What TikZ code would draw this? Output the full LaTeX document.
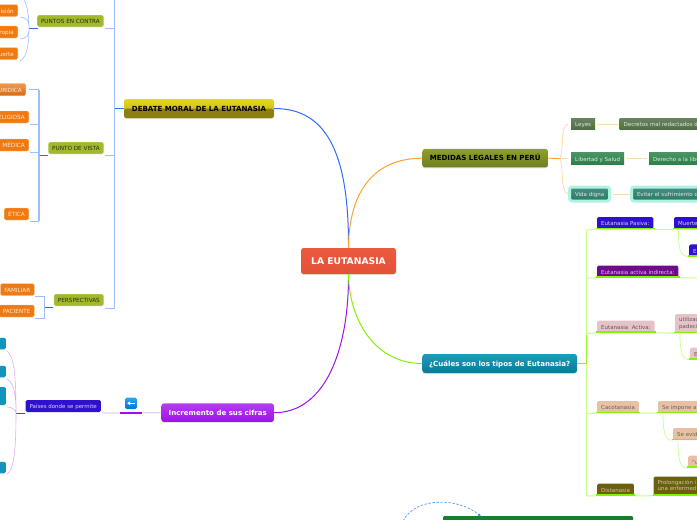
\documentclass[tikz,border=0pt]{standalone}
\usepackage{fontspec}
\setmainfont{DejaVu Sans}
\usetikzlibrary{arrows.meta,shadows}
\definecolor{blueL}{HTML}{9DBEFF}\definecolor{blueB}{HTML}{2E6BF0}
\definecolor{orgL}{HTML}{FFD9A6}\definecolor{orgB}{HTML}{FFA030}
\definecolor{purL}{HTML}{DDAEFF}\definecolor{purB}{HTML}{A010EE}
\definecolor{grnL}{HTML}{C4FF8C}\definecolor{grnB}{HTML}{80F400}
\definecolor{olv}{HTML}{A2B92C}\definecolor{orn}{HTML}{F07A10}
\definecolor{ind}{HTML}{3010D0}\definecolor{vio}{HTML}{6F0A8A}
\definecolor{pnk}{HTML}{E5C3C8}\definecolor{pch}{HTML}{E8C0A5}
\definecolor{brn}{HTML}{6B5F10}\definecolor{tea}{HTML}{1295BC}
\definecolor{halo}{HTML}{AEF2E4}
\definecolor{ctrA}{HTML}{EB5A3E}\definecolor{ctrB}{HTML}{E5503A}
\definecolor{debA}{HTML}{E4D820}\definecolor{debB}{HTML}{BBAF14}\definecolor{debC}{HTML}{8C7E12}
\definecolor{medA}{HTML}{8E9F2B}\definecolor{medB}{HTML}{6E8020}
\definecolor{cuaA}{HTML}{1A9CC0}\definecolor{cuaB}{HTML}{0B7A95}
\definecolor{incA}{HTML}{B53CF0}\definecolor{incB}{HTML}{A010EE}
\definecolor{jurA}{HTML}{EE9A50}\definecolor{jurB}{HTML}{D86A10}
\definecolor{icoA}{HTML}{25A8F0}\definecolor{icoB}{HTML}{0A70D8}
\definecolor{lfA}{HTML}{4F6E45}\definecolor{lfB}{HTML}{2B8048}\definecolor{lfC}{HTML}{2A7A68}
\definecolor{grn}{HTML}{1A7F2A}\definecolor{arcB}{HTML}{3C8CF0}\definecolor{mainB}{HTML}{2E6BFF}
\newcommand{\smallstrut}{\rule[-1.5pt]{0pt}{8.5pt}}
\newcommand{\bigstrut}{\rule[-1.9pt]{0pt}{8.9pt}}
\tikzset{
 base/.style={rounded corners=1.5pt,inner ysep=0pt,inner xsep=4pt,minimum height=12pt,font=\fontsize{5.5}{6.6}\selectfont,align=left,execute at begin node=\smallstrut},
 caps/.style={base,font=\fontsize{5.7}{6.6}\selectfont},
 olive/.style={caps,fill=olv,text=black!75!olv,draw=white,line width=.4pt},
 orange/.style={caps,fill=orn,text=white!85!orn,draw=white!60!orn,line width=.3pt},
 indigo/.style={base,fill=ind,text=white!80!ind},
 violet/.style={base,fill=vio,text=white!75!vio},
 pink/.style={base,fill=pnk,text=black!55!pnk},
 peach/.style={base,fill=pch,text=black!50!pch},
 brown/.style={base,fill=brn,text=white!65!brn},
 teal2/.style={base,fill=tea},
 leaf/.style={base,rounded corners=0pt,top color=#1!85!white,bottom color=#1,text=white!85!#1,minimum height=11.5pt},
 halobox/.style={leaf=#1,draw=halo,line width=3pt,rounded corners=2.5pt,minimum height=14pt,inner xsep=5.5pt},
 main/.style={rounded corners=2.5pt,inner ysep=0pt,inner xsep=5pt,font=\fontsize{7.05}{8}\selectfont\bfseries,drop shadow={opacity=.2,shadow xshift=0pt,shadow yshift=-1pt}},
 busB/.style={blueL,line width=.9pt},  hotB/.style={blueB,line width=.9pt},
 busO/.style={orgL,line width=.8pt},   hotO/.style={orgB,line width=.9pt},
 busP/.style={purL,line width=.8pt},   hotP/.style={purB,line width=1pt},
 busG/.style={grnL,line width=1pt},   hotG/.style={grnB,line width=1pt},
 ul/.style={grnB,line width=1.7pt}
}
\begin{document}
\begin{tikzpicture}[x=1pt,y=-1pt]
\useasboundingbox (0,0) rectangle (697,520);
\clip (0,0) rectangle (697,520);
% ---- nodes
\node[main,minimum width=95pt,minimum height=26pt,top color=ctrA,bottom color=ctrB,text=white,font=\fontsize{9.2}{10}\selectfont\bfseries] (c) at (348.5,261) {LA EUTANASIA};
\node[main,minimum width=150pt,minimum height=19pt,top color=debA,bottom color=debB,text=black,
  path picture={\fill[debC] (path picture bounding box.west) rectangle (path picture bounding box.south east);
  }] (deb) at (199,108.5) {};
\node[font=\fontsize{7.05}{8}\selectfont\bfseries,text=black] (debt) at (199,108.8) {DEBATE MORAL DE LA EUTANASIA};
\node[main,minimum width=125.5pt,minimum height=18.5pt,top color=medA,bottom color=medB,text=black] (med) at (485.2,158.2) {\bigstrut MEDIDAS LEGALES EN PERÚ};
\node[main,minimum width=154.5pt,minimum height=19pt,top color=cuaA,bottom color=cuaB,text=white] (cua) at (499.7,363.5) {\bigstrut ¿Cuáles son los tipos de Eutanasia?};
\node[main,minimum width=112.5pt,minimum height=18.5pt,top color=incA,bottom color=incB,text=white] (inc) at (217.7,412.7) {\bigstrut Incremento de sus cifras};
% left olive
\node[olive,anchor=east] (pc) at (104,21) {PUNTOS EN CONTRA};
\node[olive,anchor=east] (pv) at (104,148) {PUNTO DE VISTA};
\node[olive,anchor=east] (pe) at (104,300) {PERSPECTIVAS};
% left orange
\node[orange,anchor=east] (o1) at (18,10.5) {misión};
\node[orange,anchor=east] (o2) at (18,32) {propia};
\node[orange,anchor=east] (o3) at (18,53.5) {muerte};
\node[orange,anchor=east,top color=jurA,bottom color=jurB] (o4) at (26,89.5) {JURIDICA};
\node[orange,anchor=east] (o5) at (29,117) {RELIGIOSA};
\node[orange,anchor=east] (o6) at (29,145) {MÉDICA};
\node[orange,anchor=east] (o7) at (29,214) {ÉTICA};
\node[orange,anchor=east] (o8) at (34.5,289.5) {FAMILIAR};
\node[orange,anchor=east] (o9) at (34.5,311) {PACIENTE};
% purple branch
\node[indigo,anchor=east] (pa) at (101,406) {Países donde se permite};
\node[rounded corners=1.5pt,minimum size=11.5pt,inner sep=0pt,top color=icoA,bottom color=icoB] (ic) at (131,403.3) {};
\draw[white,line width=1.3pt,-{Latex[length=3pt,width=4.5pt]}] ([xshift=3.5pt]ic.center) -- ([xshift=-3.8pt]ic.center);
\node[teal2,anchor=east,minimum width=30pt,minimum height=11.5pt] (t1) at (6,343.5) {};
\node[teal2,anchor=east,minimum width=30pt,minimum height=11.5pt] (t2) at (6,371.5) {};
\node[teal2,anchor=east,minimum width=30pt,minimum height=18pt] (t3) at (6,396) {};
\node[teal2,anchor=east,minimum width=30pt,minimum height=11.5pt] (t4) at (6,467.5) {};
% legal
\node[leaf=lfA,anchor=west] (l1) at (571,124) {Leyes};
\node[leaf=lfA,anchor=west] (l2) at (619.5,124) {Decretos mal redactados d};
\node[leaf=lfB,anchor=west] (l3) at (571,158.5) {Libertad y Salud};
\node[leaf=lfB,anchor=west] (l4) at (649,158.5) {Derecho a la libertad};
\node[halobox=lfC,anchor=west] (l5) at (568,194) {Vida digna};
\node[halobox=lfC,anchor=west] (l6) at (630,194) {Evitar el sufrimiento d};
% types
\node[indigo,anchor=west] (a1) at (597,223) {Eutanasia Pasiva:};
\node[indigo,anchor=west] (a2) at (674,223) {Muerte};
\node[indigo,anchor=west] (a3) at (689,250.3) {El};
\node[violet,anchor=west] (b1) at (597,271.5) {Eutanasia activa indirecta:};
\node[pink,anchor=west] (d1) at (597,326.5) {Eutanasia\ \ Activa:};
\node[pink,anchor=west,minimum height=19pt] (d2) at (675,323.5) {utilizac\\padecii};
\node[pink,anchor=west] (d3) at (690,353.5) {El};
\node[peach,anchor=west] (e1) at (597,407) {Cacotanasia};
\node[peach,anchor=west] (e2) at (658,407) {Se impone a};
\node[peach,anchor=west] (e3) at (673,434) {Se evid};
\node[peach,anchor=west] (e4) at (688,461.7) {"u};
\node[brown,anchor=west] (f1) at (597,489.7) {Distanasia};
\node[brown,anchor=west,minimum height=19pt] (f2) at (653.5,486) {Prolongación i\\una enfermed};
\node[base,anchor=north west,rounded corners=1pt,fill=grn,minimum width=190pt,minimum height=12pt] (g) at (443,516) {};
% ---- coordinates
\coordinate (tb) at (114.5,0); \coordinate (bb) at (114.5,308);
\coordinate (jr) at (560,158.5);
\coordinate (tg) at (586.5,230); \coordinate (bg) at (586.5,496);
\coordinate (jg) at (586.5,363.5);
\coordinate (jp) at (16,413);
\coordinate (jc) at (29,28);
\coordinate (jv) at (39,155);
\coordinate (js) at (44.5,307.5);
\coordinate (er) at (700,278);
\coordinate (gs) at (403,521);
\coordinate (ge) at (481,516.5);
% ---- main curves
\draw[mainB,line width=1pt] (c.north) .. controls (349,150) and (325,108.5) .. (deb.east);
\draw[orgB,line width=1pt] (c.north) .. controls (349,190) and (375,158.2) .. (med.west);
\draw[purB,line width=1pt] (c.south) .. controls (349,350) and (325,412.7) .. (inc.east);
\draw[grnB,line width=1pt] (c.south) .. controls (349,320) and (375,363.5) .. (cua.west);
% ---- blue branch
\draw[busB] (tb) -- (bb);
\draw[hotB] (deb.west) -- (deb.west -| tb);
\draw[busB] (105,28) -- (114.5,28) (105,155) -- (114.5,155) (105,308) -- (bb);
\draw[hotB] (38,28) -- (jc);
\draw[blueL,line width=.6pt] (jc) .. controls (29,20) and (27,18) .. (20,17)
  (jc) .. controls (29,36) and (27,38) .. (20,39)
  (jc) .. controls (29,45) and (27,57) .. (20,61)
  (jc) .. controls (29,15) and (27,5) .. (24,0);
\draw[hotB] (48,155) -- (jv);
\draw[busB,line width=1.2pt] (39,89.5) -- (39,221);
\draw[busB] (29,89.5) -- (39,89.5) (30,124.5) -- (39,124.5) (30,152.5) -- (39,152.5) (30,221) -- (39,221);
\draw[hotB] (53,307.5) -- (js);
\draw[busB] (35,296.5) -| (js) (35,318) -| (js);
% ---- orange branch
\draw[hotO] (med.east) -- (jr);
\draw[busO] (jr) .. controls (564,150) and (560,126) .. (568,124)
  (jr) -- (568,158.5)
  (jr) .. controls (564,168) and (560,192) .. (568,194);
\draw[busO] (l1.east)+(3,0) -- +(23,0);
\draw[busO] (l3.east)+(3,0) -- +(23,0);
\draw[busO] (l5.east)+(1.5,0) -- +(20,0);
% ---- purple branch
\draw[busP] (102,413) -- (inc.west);
\draw[purB,line width=1.8pt] (120,413) -- (142,413);
\draw[hotP] (25,413) -- (jp);
\draw[purL,line width=.6pt] (jp) .. controls (16,375) and (14,356) .. (7,351)
  (jp) .. controls (16,395) and (14,383) .. (7,379)
  (jp) .. controls (16,410) and (12,407) .. (7,407)
  (jp) .. controls (16,450) and (14,470) .. (7,474);
% ---- green branch
\draw[hotG] (cua.east) -- (jg);
\draw[busG,line width=1.3pt] (tg) -- (bg);
\draw[grnB!70!grnL,line width=1.3pt] (586.5,335) -- (jg);
\draw[busG] (tg) -- (a1.south west);
\draw[busG] (586.5,278) -- (b1.south west) (b1.south east) -- (er);
\draw[busG] (586.5,333.5) -- (d1.south west) (d1.south east) -- (d2.south west);
\draw[busG] (586.5,414) -- (e1.south west) (e1.south east) -- (e2.south west);
\draw[busG] (bg) -- (f1.south west) (f1.south east) -- (f2.south west);
\draw[busG] (a1.south east) -- (a2.south west);
\draw[busG,line width=.7pt] (678.5,231) .. controls (678.5,250) and (680,256.5) .. (a3.south west);
\draw[busG,line width=.7pt] (680,334) .. controls (680,352) and (682,360) .. (d3.south west);
\draw[busG,line width=.7pt] (663,414) .. controls (663,432) and (665,441) .. (e3.south west);
\draw[busG,line width=.7pt] (678,441) .. controls (678,460) and (680,468.5) .. (e4.south west);
\foreach \n in {a1,a2,a3,b1,d1,d2,d3,e1,e2,e3,e4,f1,f2}{
  \draw[ul] ([shift={(-1,-.6)}]\n.south west) -- ([shift={(1,-.6)}]\n.south east);
}
% ---- dashed arc
\draw[arcB,line width=.6pt,dash pattern=on 2.5pt off 1.5pt,-{Latex[length=3pt,width=3pt]}] (gs) .. controls (415,497) and (458,497) .. (ge);
\end{tikzpicture}
\end{document}
